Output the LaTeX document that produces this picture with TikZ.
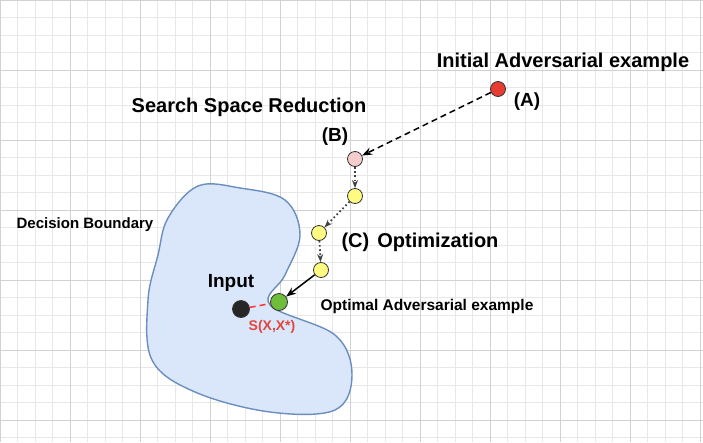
\documentclass[tikz,border=0pt]{standalone}
\usepackage{fontspec}
\setmainfont{Liberation Sans}
\usetikzlibrary{arrows.meta}
\begin{document}
\begin{tikzpicture}[x=1pt,y=-1pt,
 pt/.style={circle,draw=black!80,line width=0.8pt,minimum size=15pt,inner sep=0pt},
 lab/.style={font=\bfseries,inner sep=0pt},
 dsh/.style={dash pattern=on 6pt off 4pt,line width=1.5pt,-{Stealth[length=10pt]}},
 dot/.style={dash pattern=on 1.6pt off 2.6pt,line width=1.8pt,draw=black!75,-{Stealth[length=8pt]}}]
\useasboundingbox (0,0) rectangle (703,442);
\fill[white] (0,0) rectangle (703,442);
\foreach \i in {0,...,41} {\draw[black!9,line width=0.4pt] (\i*17.5,0) -- (\i*17.5,442);}
\foreach \i in {0,...,26} {\draw[black!9,line width=0.4pt] (0,\i*17.5) -- (703,\i*17.5);}
\foreach \i in {0,...,10} {\draw[black!18,line width=0.5pt] (\i*70,0) -- (\i*70,442);}
\foreach \i in {0,...,6} {\draw[black!18,line width=0.5pt] (0,\i*70) -- (703,\i*70);}
\draw[fill={rgb,255:red,218;green,231;blue,251},draw={rgb,255:red,108;green,142;blue,191},line width=1.4pt]
 plot[smooth cycle,tension=0.6] coordinates {(168,218) (198,186) (240,188) (285,200) (300,235) (285,275) (270,305) (335,335) (352,375) (335,410) (270,412) (195,392) (152,360) (148,300) (158,255)};
\node[pt,fill={rgb,255:red,230;green,60;blue,50}] (a) at (498,89) {};
\node[pt,fill={rgb,255:red,245;green,205;blue,205}] (b) at (355,159) {};
\node[pt,fill={rgb,255:red,255;green,250;blue,130}] (y1) at (355,196) {};
\node[pt,fill={rgb,255:red,255;green,250;blue,130}] (y2) at (319,233) {};
\node[pt,fill={rgb,255:red,255;green,250;blue,130}] (y3) at (321,270) {};
\node[pt,fill={rgb,255:red,110;green,190;blue,60},minimum size=17pt] (g) at (279,302) {};
\node[pt,fill=black!85,minimum size=17pt] (in) at (241,309) {};
\draw[dsh] (a) -- (b);
\draw[dot] (b) -- (y1);
\draw[dot] (y1) -- (y2);
\draw[dot] (y2) -- (y3);
\draw[line width=1.5pt,-{Stealth[length=10pt]}] (y3) -- (g);
\draw[red!80,dash pattern=on 6pt off 4pt,line width=1.5pt] (in) -- (g);
\node[lab,font=\bfseries\fontsize{20}{24}\selectfont] (t1) at (563,62) {Initial Adversarial example};
\node[lab,font=\bfseries\fontsize{19}{23}\selectfont] (ta) at (527,102) {(A)};
\node[lab,font=\bfseries\fontsize{20}{24}\selectfont] (t2) at (249,107) {Search Space Reduction};
\node[lab,font=\bfseries\fontsize{19}{23}\selectfont] (tb) at (335,137) {(B)};
\node[lab,font=\bfseries\fontsize{15}{18}\selectfont] (td) at (85,225) {Decision Boundary};
\node[lab,font=\bfseries\fontsize{20}{24}\selectfont] (tc) at (420,242) {(C)\hspace{8pt}Optimization};
\node[lab,font=\bfseries\fontsize{19}{23}\selectfont] (ti) at (231,283) {Input};
\node[lab,font=\bfseries\fontsize{15.5}{18}\selectfont] (to) at (427,306) {Optimal Adversarial example};
\node[lab,font=\bfseries\fontsize{14}{17}\selectfont,text={rgb,255:red,225;green,70;blue,60}] (ts) at (272,327) {S(X,X*)};
\end{tikzpicture}
\end{document}
